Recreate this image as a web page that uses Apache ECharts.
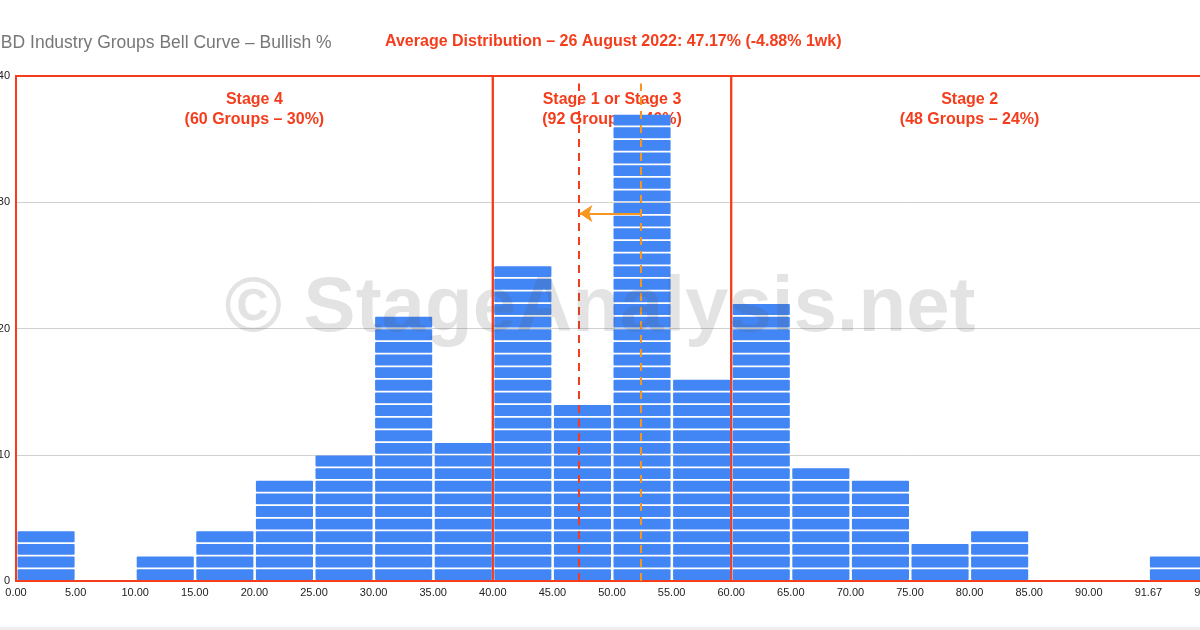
<!DOCTYPE html>
<html>
<head>
<meta charset="utf-8">
<script src="https://cdn.jsdelivr.net/npm/echarts@6/dist/echarts.min.js"></script>
<style>
  html, body { margin: 0; padding: 0; background: #fff; }
  #main { width: 1200px; height: 630px; }
</style>
</head>
<body>
<div id="main"></div>
<script>
// bin edges (labels under the axis) and group counts per bin
var binEdges = ['0.00', '5.00', '10.00', '15.00', '20.00', '25.00', '30.00', '35.00', '40.00', '45.00',
  '50.00', '55.00', '60.00', '65.00', '70.00', '75.00', '80.00', '85.00', '90.00', '91.67', '95.00'];
var groupCounts = [4, 0, 2, 4, 8, 10, 21, 11, 25, 14, 37, 16, 22, 9, 8, 3, 4, 0, 0, 2];

// stage boxes, in bin index units
var stageStart = [0, 8, 12];
var stageEnd = [8, 12, 20];
var stageLabels = ['Stage 4\n(60 Groups – 30%)', 'Stage 1 or Stage 3\n(92 Groups – 46%)', 'Stage 2\n(48 Groups – 24%)'];

// average distribution lines (bullish %), this week and last week
var avgNow = 47.17;
var avgPrev = 52.4;
var arrowLevel = 29.1;

var RED = '#f43d1c';
var ORANGE = '#f7961e';
var BLUE = '#4285f4';

var chart = echarts.init(document.getElementById('main'));

var blockData = groupCounts.map(function (c, i) { return [i, c]; });

function renderBlocks(params, api) {
  var i = api.value(0);
  var n = api.value(1);
  var children = [];
  for (var j = 0; j < n; j++) {
    var p0 = api.coord([i, j + 1]);
    var p1 = api.coord([i + 1, j]);
    children.push({
      type: 'rect',
      shape: { x: p0[0] + 1.5, y: p0[1] + 0.8, width: p1[0] - p0[0] - 2.5, height: p1[1] - p0[1] - 1.7, r: 1 },
      style: { fill: BLUE }
    });
  }
  return { type: 'group', children: children };
}

var boxAreas = stageStart.map(function (s, k) {
  return [{ name: stageLabels[k], coord: [s, 40] }, { coord: [stageEnd[k], 0] }];
});

var option = {
  animation: false,
  backgroundColor: '#fff',
  title: [
    {
      text: 'IBD Industry Groups Bell Curve – Bullish %',
      left: -9,
      top: 29,
      textStyle: { fontSize: 17.5, fontWeight: 'normal', color: '#777', fontFamily: 'Liberation Sans, Arial, sans-serif' }
    },
    {
      text: 'Average Distribution – 26 August 2022: ' + avgNow.toFixed(2) + '% (-4.88% 1wk)',
      left: 380,
      top: 29,
      textStyle: { fontSize: 16, fontWeight: 'bold', color: RED, fontFamily: 'Liberation Sans, Arial, sans-serif' }
    }
  ],
  grid: { left: 16, right: -8, top: 76, bottom: 49, containLabel: false, outerBoundsMode: 'none' },
  xAxis: {
    type: 'value',
    min: 0,
    max: 20,
    interval: 1,
    axisLine: { show: false },
    axisTick: { show: false },
    splitLine: { show: false },
    axisLabel: {
      margin: 6,
      fontSize: 11,
      color: '#222',
      fontFamily: 'Liberation Sans, Arial, sans-serif',
      formatter: function (v) { return binEdges[v]; }
    }
  },
  yAxis: {
    type: 'value',
    min: 0,
    max: 40,
    interval: 10,
    axisLine: { show: false },
    axisTick: { show: false },
    splitLine: { lineStyle: { color: '#d0d0d0', width: 1 } },
    axisLabel: { margin: 6, fontSize: 11, color: '#222', fontFamily: 'Liberation Sans, Arial, sans-serif' }
  },
  graphic: [
    {
      type: 'text',
      left: 'center',
      top: 270,
      z: 100,
      style: {
        text: '© StageAnalysis.net',
        font: 'bold 78px "Liberation Sans", Arial, sans-serif',
        fill: 'rgba(90,90,90,0.17)'
      }
    },
    {
      type: 'rect',
      left: 0,
      top: 627,
      shape: { width: 1200, height: 3 },
      style: { fill: '#eeeeee' }
    }
  ],
  series: [
    {
      type: 'custom',
      renderItem: renderBlocks,
      data: blockData,
      z: 2
    },
    {
      type: 'line',
      data: [],
      z: 5,
      markArea: {
        silent: true,
        itemStyle: { color: 'rgba(0,0,0,0)', borderColor: RED, borderWidth: 2 },
        label: {
          show: true,
          position: 'insideTop',
          distance: 15,
          color: RED,
          fontSize: 16,
          fontWeight: 'bold',
          lineHeight: 20,
          fontFamily: 'Liberation Sans, Arial, sans-serif',
          formatter: '{b}'
        },
        data: boxAreas
      },
      markLine: {
        silent: true,
        symbol: 'none',
        label: { show: false },
        data: [
          [
            { coord: [avgNow / 5, 0], lineStyle: { color: RED, type: [8, 6], width: 2 } },
            { coord: [avgNow / 5, 39.4] }
          ],
          [
            { coord: [avgPrev / 5, 0], lineStyle: { color: ORANGE, type: [8, 6], width: 2 } },
            { coord: [avgPrev / 5, 39.4] }
          ],
          [
            { coord: [avgPrev / 5, arrowLevel], symbol: 'none', lineStyle: { color: ORANGE, type: 'solid', width: 2 } },
            { coord: [avgNow / 5 + 0.02, arrowLevel], symbol: 'arrow', symbolSize: 13 }
          ]
        ]
      }
    }
  ]
};

chart.setOption(option);
</script>
</body>
</html>
